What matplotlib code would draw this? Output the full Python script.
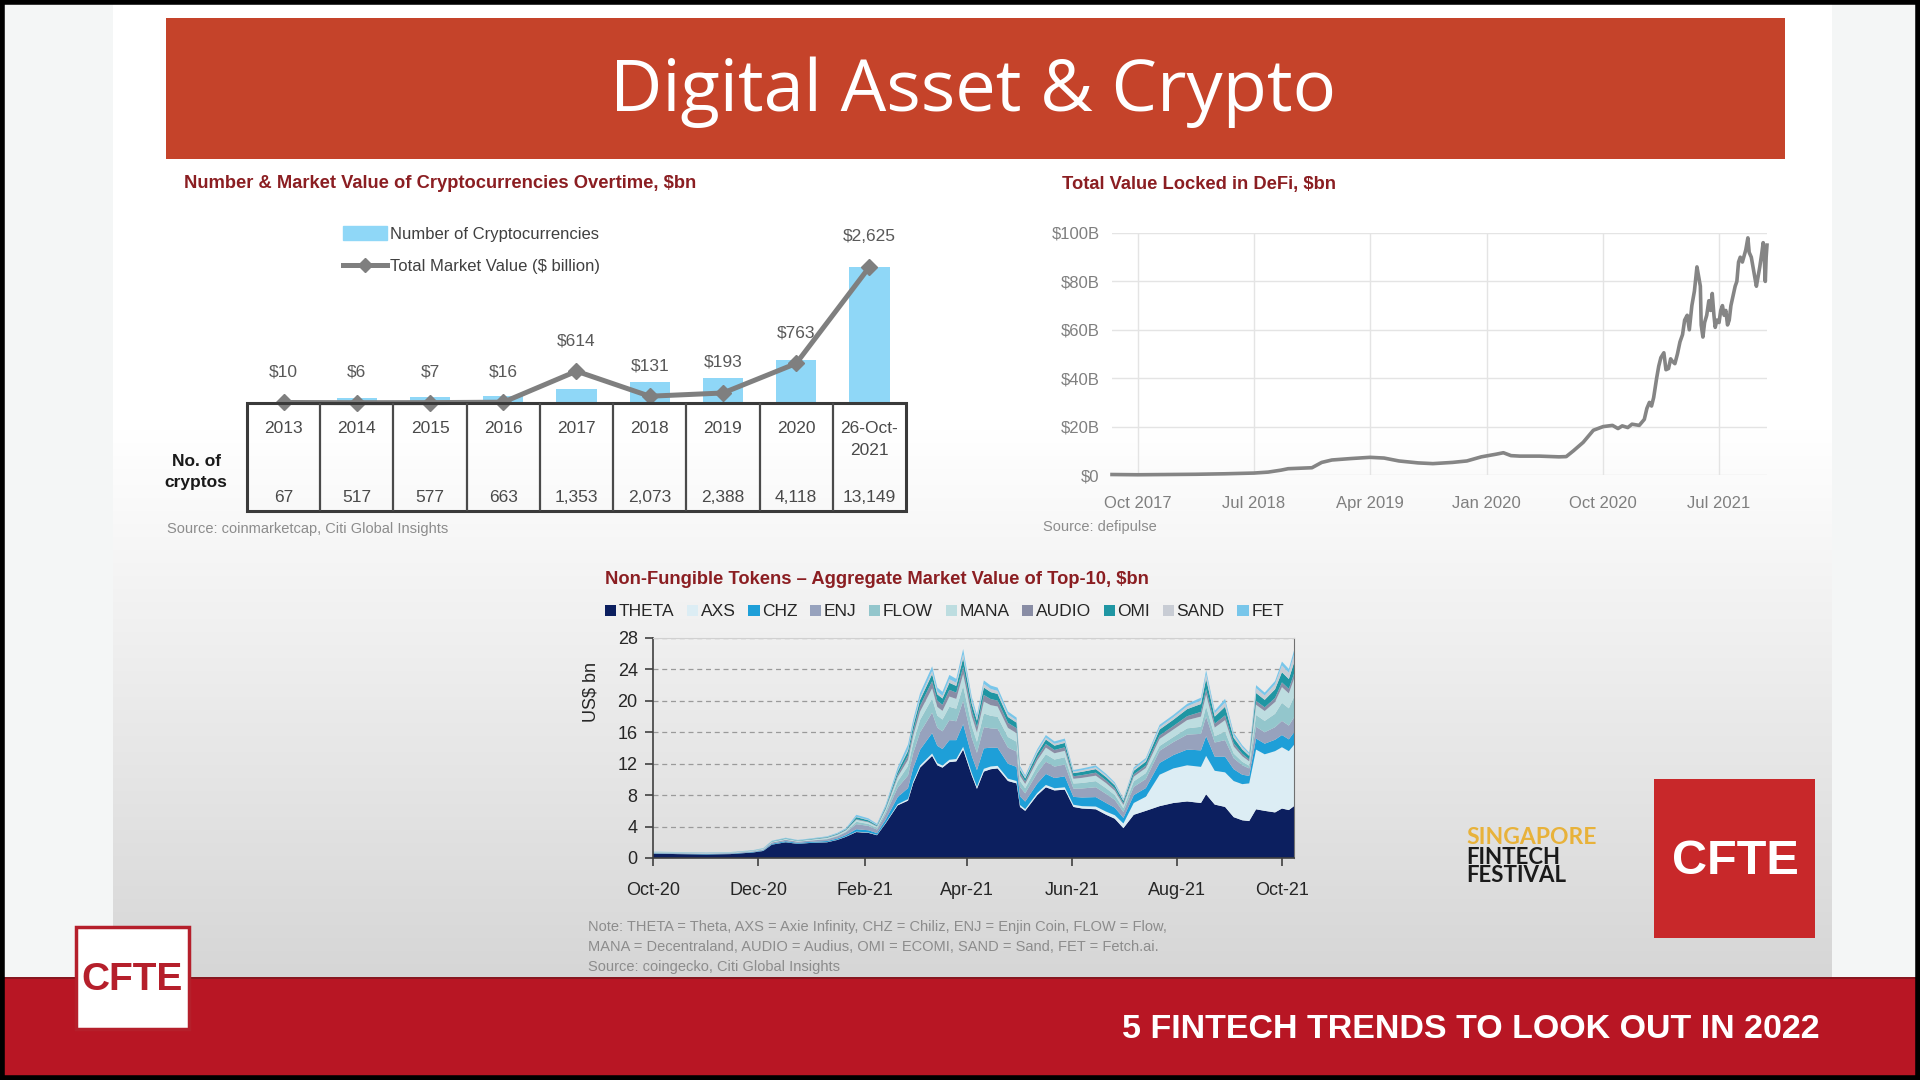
import numpy as np
import matplotlib
matplotlib.use("Agg")
import matplotlib.pyplot as plt
from matplotlib.patches import Rectangle, Patch
from matplotlib.lines import Line2D

# =============================================================================
# Digital Asset & Crypto - slide recreation
# =============================================================================

plt.rcParams["font.family"] = ["Liberation Sans", "DejaVu Sans"]

W, H = 1920, 1080

# --- data: number & market value of cryptocurrencies ---
years = ["2013", "2014", "2015", "2016", "2017", "2018", "2019", "2020", "26-Oct-\n2021"]
n_cryptos = [67, 517, 577, 663, 1353, 2073, 2388, 4118, 13149]
market_value = [10, 6, 7, 16, 614, 131, 193, 763, 2625]

# --- data: total value locked in DeFi ($bn) ---
tvl_dates = [
    "2017-08-01", "2017-10-01", "2018-02-15", "2018-04-23", "2018-07-01", "2018-08-04",
    "2018-09-03", "2018-09-20", "2018-11-15", "2018-12-08", "2019-01-01", "2019-02-15",
    "2019-04-01", "2019-05-04", "2019-06-08", "2019-07-23", "2019-08-27", "2019-10-12",
    "2019-11-15", "2019-12-19", "2020-01-23", "2020-02-09", "2020-02-27", "2020-03-19",
    "2020-05-04", "2020-06-19", "2020-07-06", "2020-07-23", "2020-08-15", "2020-09-08",
    "2020-10-01", "2020-10-23", "2020-11-05", "2020-11-15", "2020-11-28", "2020-12-08",
    "2020-12-25", "2021-01-06", "2021-01-12", "2021-01-18", "2021-01-23", "2021-01-28",
    "2021-02-04", "2021-02-09", "2021-02-14", "2021-02-21", "2021-02-26", "2021-03-04",
    "2021-03-09", "2021-03-13", "2021-03-19", "2021-03-25", "2021-03-31", "2021-04-06",
    "2021-04-11", "2021-04-17", "2021-04-22", "2021-04-28", "2021-05-04", "2021-05-10",
    "2021-05-14", "2021-05-18", "2021-05-20", "2021-05-24", "2021-05-28", "2021-06-02",
    "2021-06-07", "2021-06-11", "2021-06-15", "2021-06-19", "2021-06-22", "2021-06-26",
    "2021-07-01", "2021-07-05", "2021-07-09", "2021-07-13", "2021-07-17", "2021-07-21",
    "2021-07-25", "2021-07-29", "2021-08-03", "2021-08-08", "2021-08-12", "2021-08-16",
    "2021-08-20", "2021-08-25", "2021-09-02", "2021-09-07", "2021-09-10", "2021-09-15",
    "2021-09-19", "2021-09-22", "2021-09-27", "2021-10-01", "2021-10-05", "2021-10-10",
    "2021-10-13", "2021-10-16", "2021-10-18", "2021-10-20", "2021-10-22",
]
tvl_values = [
    0.2, 0.1, 0.3, 0.5, 0.8, 1.2,
    2.0, 2.6, 3.0, 5.2, 6.2, 6.8,
    7.3, 7.0, 5.8, 5.0, 4.7, 5.2,
    5.8, 7.5, 8.6, 9.2, 8.0, 7.8,
    7.8, 7.5, 7.6, 10.0, 13.5, 18.5,
    20.0, 20.5, 19.2, 20.3, 19.6, 21.0,
    20.5, 23.0, 27.5, 30.0, 28.5, 32.0,
    40.0, 45.0, 48.5, 50.5, 43.5, 44.0,
    48.0, 47.0, 46.0, 50.0, 55.0, 58.0,
    64.0, 66.0, 60.0, 70.0, 76.0, 86.0,
    82.0, 78.0, 62.0, 57.0, 63.0, 66.0,
    72.0, 68.0, 75.0, 66.0, 61.0, 64.0,
    63.0, 68.0, 70.0, 66.0, 68.0, 62.0,
    64.0, 70.0, 74.0, 78.0, 80.0, 88.0,
    90.0, 88.0, 93.0, 98.0, 92.0, 90.0,
    86.0, 83.0, 78.0, 82.0, 86.0, 92.0,
    96.0, 88.0, 80.0, 90.0, 95.0,
]
tvl_ticks = ["2017-10-01", "2018-07-01", "2019-04-01", "2020-01-01", "2020-10-01", "2021-07-01"]
tvl_tick_labels = ["Oct 2017", "Jul 2018", "Apr 2019", "Jan 2020", "Oct 2020", "Jul 2021"]

# --- data: NFT top-10 aggregate market value ($bn) ---
nft_dates = [
    "2020-10-01", "2020-10-15", "2020-11-01", "2020-11-15", "2020-11-28", "2020-12-04",
    "2020-12-09", "2020-12-17", "2020-12-24", "2020-12-30", "2021-01-10", "2021-01-16",
    "2021-01-21", "2021-01-27", "2021-02-03", "2021-02-08", "2021-02-13", "2021-02-20",
    "2021-02-26", "2021-03-01", "2021-03-05", "2021-03-12", "2021-03-15", "2021-03-18",
    "2021-03-22", "2021-03-26", "2021-03-30", "2021-04-04", "2021-04-07", "2021-04-11",
    "2021-04-15", "2021-04-19", "2021-04-25", "2021-04-30", "2021-05-02", "2021-05-05",
    "2021-05-12", "2021-05-17", "2021-05-22", "2021-05-28", "2021-06-02", "2021-06-07",
    "2021-06-15", "2021-06-21", "2021-06-26", "2021-07-01", "2021-07-07", "2021-07-14",
    "2021-07-22", "2021-07-30", "2021-08-07", "2021-08-15", "2021-08-18", "2021-08-23",
    "2021-08-29", "2021-09-03", "2021-09-08", "2021-09-12", "2021-09-16", "2021-09-21",
    "2021-09-27", "2021-10-01", "2021-10-05", "2021-10-08",
]
theta = [0.55, 0.50, 0.45, 0.50, 0.70, 0.90, 1.70, 2.00, 1.80, 1.90, 2.00, 2.30, 2.70, 3.30, 3.20, 2.90,
         4.40, 6.70, 7.30, 9.50, 11.50, 13.00, 11.80, 11.50, 12.20, 12.30, 13.80, 10.50, 8.80, 11.00, 11.30, 11.40,
         9.80, 9.50, 6.50, 6.00, 8.00, 9.00, 8.60, 8.70, 6.50, 6.30, 6.20, 5.50, 5.00, 3.80, 5.50, 6.00,
         6.60, 7.00, 7.20, 7.00, 8.10, 6.80, 6.50, 5.20, 4.80, 4.70, 6.20, 6.00, 5.80, 6.30, 6.10, 6.60]
axs = [0.01, 0.01, 0.01, 0.01, 0.01, 0.02, 0.02, 0.02, 0.02, 0.02, 0.03, 0.03, 0.04, 0.06, 0.05, 0.05,
       0.08, 0.15, 0.20, 0.25, 0.28, 0.30, 0.28, 0.27, 0.30, 0.30, 0.35, 0.30, 0.28, 0.35, 0.35, 0.33,
       0.30, 0.30, 0.25, 0.23, 0.28, 0.30, 0.28, 0.30, 0.28, 0.30, 0.35, 0.40, 0.45, 0.60, 1.50, 1.80,
       4.00, 4.40, 4.60, 4.60, 4.90, 4.30, 4.40, 4.60, 4.60, 4.80, 7.60, 7.20, 7.80, 7.80, 7.50, 7.80]
chz = [0.05, 0.05, 0.05, 0.05, 0.06, 0.07, 0.10, 0.12, 0.10, 0.11, 0.13, 0.15, 0.18, 0.30, 0.28, 0.22,
       0.40, 0.90, 1.40, 1.70, 2.00, 2.60, 2.20, 2.10, 2.50, 2.40, 2.90, 2.20, 2.10, 2.60, 2.40, 2.30,
       1.90, 1.80, 1.10, 0.95, 1.20, 1.40, 1.30, 1.40, 1.00, 1.10, 1.20, 1.10, 0.95, 0.70, 1.00, 1.10,
       1.50, 1.70, 2.00, 2.10, 2.50, 1.80, 2.00, 1.50, 1.20, 0.95, 1.40, 1.35, 1.45, 1.55, 1.50, 1.60]
enj = [0.06, 0.06, 0.06, 0.07, 0.08, 0.10, 0.16, 0.18, 0.16, 0.17, 0.22, 0.28, 0.36, 0.65, 0.55, 0.45,
       0.70, 1.20, 1.60, 1.90, 2.20, 2.60, 2.30, 2.25, 2.55, 2.40, 2.95, 2.30, 2.20, 2.70, 2.45, 2.40,
       2.05, 1.95, 1.20, 1.05, 1.35, 1.55, 1.45, 1.50, 1.05, 1.15, 1.25, 1.15, 1.00, 0.75, 1.05, 1.15,
       1.55, 1.65, 1.90, 2.10, 2.50, 1.80, 2.10, 1.40, 1.20, 0.95, 1.50, 1.45, 1.60, 1.80, 1.75, 1.90]
flow = [0.00, 0.00, 0.00, 0.00, 0.00, 0.00, 0.00, 0.00, 0.00, 0.00, 0.05, 0.06, 0.08, 0.30, 0.25, 0.20,
        0.35, 0.80, 1.20, 1.30, 1.60, 1.80, 1.55, 1.50, 1.70, 1.60, 1.90, 1.50, 1.40, 1.75, 1.60, 1.55,
        1.35, 1.25, 0.75, 0.65, 0.85, 0.95, 0.90, 0.92, 0.65, 0.70, 0.78, 0.72, 0.62, 0.48, 0.70, 0.75,
        0.60, 0.65, 0.80, 0.90, 1.30, 0.80, 1.10, 0.60, 0.45, 0.35, 1.50, 1.45, 1.70, 2.30, 2.20, 2.60]
mana = [0.07, 0.07, 0.06, 0.06, 0.07, 0.09, 0.10, 0.12, 0.10, 0.11, 0.13, 0.14, 0.16, 0.26, 0.22, 0.18,
        0.25, 0.55, 0.80, 0.90, 1.05, 1.30, 1.10, 1.10, 1.30, 1.25, 1.50, 1.25, 1.20, 1.50, 1.35, 1.30,
        1.15, 1.10, 0.65, 0.55, 0.75, 0.85, 0.80, 0.82, 0.60, 0.65, 0.70, 0.65, 0.55, 0.42, 0.60, 0.65,
        0.90, 0.95, 1.05, 1.30, 1.50, 1.10, 1.45, 0.90, 0.70, 0.55, 1.30, 1.25, 1.50, 2.00, 1.90, 2.30]
audio = [0.00, 0.00, 0.00, 0.00, 0.00, 0.00, 0.00, 0.00, 0.00, 0.00, 0.03, 0.04, 0.05, 0.08, 0.07, 0.06,
         0.10, 0.30, 0.55, 0.60, 0.75, 0.90, 0.80, 0.78, 0.85, 0.80, 0.95, 0.75, 0.70, 0.85, 0.78, 0.75,
         0.65, 0.62, 0.38, 0.32, 0.40, 0.45, 0.42, 0.45, 0.32, 0.35, 0.38, 0.35, 0.30, 0.22, 0.30, 0.32,
         0.45, 0.45, 0.50, 0.60, 0.70, 0.50, 0.60, 0.40, 0.32, 0.25, 0.50, 0.48, 0.52, 0.60, 0.58, 0.65]
omi = [0.02, 0.02, 0.02, 0.02, 0.03, 0.03, 0.05, 0.06, 0.05, 0.06, 0.07, 0.08, 0.09, 0.25, 0.18, 0.10,
       0.20, 0.40, 0.60, 0.65, 0.75, 0.90, 0.80, 0.80, 0.90, 0.85, 1.10, 0.85, 0.80, 0.95, 0.88, 0.85,
       0.75, 0.70, 0.42, 0.38, 0.50, 0.58, 0.55, 0.56, 0.40, 0.42, 0.45, 0.42, 0.38, 0.30, 0.45, 0.50,
       0.75, 0.80, 0.90, 1.00, 1.30, 0.90, 1.10, 0.70, 0.55, 0.45, 1.00, 0.95, 1.10, 1.30, 1.25, 1.40]
sand = [0.02, 0.02, 0.02, 0.02, 0.02, 0.02, 0.02, 0.02, 0.02, 0.02, 0.03, 0.03, 0.03, 0.05, 0.05, 0.04,
        0.06, 0.12, 0.20, 0.25, 0.30, 0.40, 0.35, 0.35, 0.45, 0.40, 0.50, 0.40, 0.35, 0.45, 0.40, 0.38,
        0.32, 0.30, 0.20, 0.18, 0.22, 0.25, 0.24, 0.25, 0.18, 0.20, 0.22, 0.20, 0.18, 0.14, 0.20, 0.22,
        0.30, 0.32, 0.35, 0.45, 0.60, 0.40, 0.55, 0.35, 0.28, 0.22, 0.60, 0.55, 0.65, 0.85, 0.80, 1.00]
fet = [0.03, 0.03, 0.03, 0.03, 0.03, 0.04, 0.05, 0.06, 0.05, 0.06, 0.07, 0.09, 0.11, 0.25, 0.20, 0.15,
       0.22, 0.40, 0.60, 0.55, 0.55, 0.60, 0.52, 0.50, 0.55, 0.50, 0.65, 0.45, 0.40, 0.45, 0.44, 0.42,
       0.38, 0.35, 0.25, 0.22, 0.30, 0.32, 0.30, 0.30, 0.22, 0.23, 0.25, 0.22, 0.20, 0.15, 0.22, 0.24,
       0.30, 0.30, 0.32, 0.35, 0.50, 0.35, 0.45, 0.30, 0.25, 0.20, 0.40, 0.38, 0.40, 0.50, 0.48, 0.55]
nft_names = ["THETA", "AXS", "CHZ", "ENJ", "FLOW", "MANA", "AUDIO", "OMI", "SAND", "FET"]
nft_colors = ["#0c1f5f", "#dcedf4", "#1e9fd8", "#97a2bd", "#93c6cc",
              "#bddde0", "#898da5", "#1f96a3", "#c8ccd4", "#78c6ea"]
nft_ticks = ["2020-10-01", "2020-12-01", "2021-02-01", "2021-04-01", "2021-06-01", "2021-08-01", "2021-10-01"]
nft_tick_labels = ["Oct-20", "Dec-20", "Feb-21", "Apr-21", "Jun-21", "Aug-21", "Oct-21"]

TITLE_RED = "#8b1e22"
GRAY_TXT = "#595959"
SRC_GRAY = "#8c8c8c"

fig = plt.figure(figsize=(W / 100, H / 100), dpi=100)


def px_axes(x0, y0, x1, y1):
    """axes placed with pixel corners (origin at top-left)."""
    return fig.add_axes([x0 / W, 1 - y1 / H, (x1 - x0) / W, (y1 - y0) / H])


# --- background slide -------------------------------------------------------
bg = fig.add_axes([0, 0, 1, 1])
bg.add_patch(Rectangle((0, 0), W, H, facecolor="#f4f6f6", edgecolor="none", zorder=0))
rows = np.linspace(0, 977, 300)
shade = np.clip((rows - 430) / (977 - 430), 0, 1)
grad = np.repeat((1 - 0.16 * shade)[:, None, None], 3, axis=2)
bg.imshow(grad, extent=(113, 1832, 977, 0), aspect="auto", zorder=1)
bg.set_xlim(0, W)
bg.set_ylim(H, 0)
bg.axis("off")

# title banner
bg.add_patch(Rectangle((166, 18), 1619, 141, facecolor="#c5432a", edgecolor="none", zorder=2))
bg.text(973, 92, "Digital Asset & Crypto", ha="center", va="center", color="white",
        fontsize=52, family=["Open Sans", "DejaVu Sans"], zorder=3)

# footer band
bg.add_patch(Rectangle((0, 977), W, 103, facecolor="#b81624", edgecolor="none", zorder=2))
bg.plot([0, W], [977.5, 977.5], color="#7e1820", lw=1.2, zorder=3)
bg.text(1820, 1030, "5 FINTECH TRENDS TO LOOK OUT IN 2022", ha="right", va="center",
        color="white", fontsize=24.5, fontweight="bold", zorder=3)

# small CFTE logo
bg.add_patch(Rectangle((76, 927), 113, 102, facecolor="white", edgecolor="#b51f2b", lw=2.5, zorder=4))
bg.text(132, 980, "CFTE", ha="center", va="center", color="#b51f2b",
        fontsize=28, fontweight="bold", zorder=5)

# big CFTE logo
bg.add_patch(Rectangle((1654, 779), 161, 159, facecolor="#c8282a", edgecolor="none", zorder=2))
bg.text(1735, 861, "CFTE", ha="center", va="center", color="white",
        fontsize=35, fontweight="bold", zorder=3)

# Singapore Fintech Festival
sff_font = ["Lato", "DejaVu Sans"]
bg.text(1466, 838, "SINGAPORE", ha="left", va="center", color="#e8b23a",
        fontsize=16.5, fontweight="bold", family=sff_font, zorder=3)
bg.text(1466, 857, "FINTECH", ha="left", va="center", color="#1a1a1a",
        fontsize=16, fontweight="bold", family=sff_font, zorder=3)
bg.text(1466, 876, "FESTIVAL", ha="left", va="center", color="#1a1a1a",
        fontsize=16, fontweight="bold", family=sff_font, zorder=3)

# chart titles / sources / notes
bg.text(184, 184, "Number & Market Value of Cryptocurrencies Overtime, $bn", ha="left",
        va="center", color=TITLE_RED, fontsize=13.2, fontweight="bold", zorder=3)
bg.text(1062, 184, "Total Value Locked in DeFi, $bn", ha="left", va="center",
        color=TITLE_RED, fontsize=13.2, fontweight="bold", zorder=3)
bg.text(605, 580, "Non-Fungible Tokens \u2013 Aggregate Market Value of Top-10, $bn", ha="left",
        va="center", color=TITLE_RED, fontsize=13.2, fontweight="bold", zorder=3)
bg.text(167, 529, "Source: coinmarketcap, Citi Global Insights", ha="left", va="center",
        color=SRC_GRAY, fontsize=10.5, zorder=3)
bg.text(1043, 527, "Source: defipulse", ha="left", va="center", color=SRC_GRAY, fontsize=10.5, zorder=3)
bg.text(588, 947,
        "Note: THETA = Theta, AXS = Axie Infinity, CHZ = Chiliz, ENJ = Enjin Coin, FLOW = Flow,\n"
        "MANA = Decentraland, AUDIO = Audius, OMI = ECOMI, SAND = Sand, FET = Fetch.ai.\n"
        "Source: coingecko, Citi Global Insights",
        ha="left", va="center", color=SRC_GRAY, fontsize=10.5, linespacing=1.5, zorder=3)
bg.text(196, 472, "No. of\ncryptos", ha="center", va="center", color="#1a1a1a",
        fontsize=12.5, fontweight="bold", linespacing=1.5, zorder=3)

# outer black frame
bg.add_patch(Rectangle((2, 2), W - 4, H - 4, fill=False, edgecolor="black", lw=4, zorder=10))

# --- chart 1: bars + line above a table -------------------------------------
pos = np.arange(len(years)) + 0.5
ax1 = px_axes(247, 230, 906, 403)
ax1.patch.set_alpha(0)
ax1.bar(pos, n_cryptos, width=0.55, color="#8fd7f7", zorder=1)
ax1.set_xlim(0, len(years))
ax1.set_ylim(0, max(n_cryptos) * 1.272)
ax1.axis("off")

ax1b = ax1.twinx()
ax1b.plot(pos, market_value, color="#7f7f7f", lw=3.6, marker="D", markersize=8,
          clip_on=False, zorder=3)
ax1b.set_ylim(0, max(market_value) * 1.272)
ax1b.set_xlim(0, len(years))
ax1b.axis("off")
for x, v in zip(pos, market_value):
    ax1b.annotate(f"${v:,}", (x, v), xytext=(0, 22), textcoords="offset points",
                  ha="center", va="center", color=GRAY_TXT, fontsize=12.5)

ax1.legend([Patch(color="#8fd7f7"),
            Line2D([], [], color="#7f7f7f", lw=3.6, marker="D", markersize=7)],
           ["Number of Cryptocurrencies", "Total Market Value ($ billion)"],
           loc="upper left", bbox_to_anchor=(343 / W, 1 - 226 / H),
           bbox_transform=fig.transFigure, frameon=False, fontsize=12,
           handlelength=2.65, handleheight=0.9, handletextpad=0.15, labelspacing=1.0,
           borderpad=0, borderaxespad=0, labelcolor="#404040")

tab = px_axes(247, 403, 906, 511)
tab.set_xlim(0, len(years))
tab.set_ylim(511, 403)
tab.axis("off")
tab.add_patch(Rectangle((0, 403), len(years), 108, fill=False, edgecolor="#3a3a3a",
                        lw=2.2, clip_on=False))
for i in range(1, len(years)):
    tab.plot([i, i], [403, 511], color="#4a4a4a", lw=1.6)
for x, y_lab, n in zip(pos, years, n_cryptos):
    tab.text(x, 421, y_lab, ha="center", va="top", fontsize=12.5, color="#4a4a4a",
             linespacing=1.55)
    tab.text(x, 497, f"{n:,}", ha="center", va="center", fontsize=12.5, color="#4a4a4a")

# --- chart 2: DeFi TVL line -------------------------------------------------
ax2 = px_axes(1112, 233, 1767, 475)
ax2.patch.set_alpha(0)
ax2.plot(np.array(tvl_dates, dtype="datetime64[D]"), tvl_values, color="#858585",
         lw=2.6, clip_on=False, zorder=3)
ax2.set_xlim(np.datetime64("2017-08-01"), np.datetime64("2021-10-22"))
ax2.set_ylim(0, 100)
ax2.set_yticks(range(0, 101, 20))
ax2.set_yticklabels(["$0", "$20B", "$40B", "$60B", "$80B", "$100B"])
ax2.set_xticks(np.array(tvl_ticks, dtype="datetime64[D]"))
ax2.set_xticklabels(tvl_tick_labels)
ax2.grid(True, color="#e4e4e4", lw=1)
for s in ax2.spines.values():
    s.set_visible(False)
ax2.tick_params(length=0, labelsize=12, labelcolor="#7f7f7f")
ax2.tick_params(axis="y", pad=9)
ax2.tick_params(axis="x", pad=15)

# --- chart 3: NFT stacked area ----------------------------------------------
ax3 = px_axes(653, 638, 1294, 858)
ax3.patch.set_alpha(0)
nft_x = np.array(nft_dates, dtype="datetime64[D]")
layers = ax3.stackplot(nft_x, theta, axs, chz, enj, flow, mana, audio, omi, sand, fet,
                       colors=nft_colors, labels=nft_names, lw=0, zorder=2)
ax3.set_xlim(np.datetime64("2020-10-01"), np.datetime64("2021-10-08"))
ax3.set_ylim(0, 28)
ax3.set_yticks(range(0, 29, 4))
ax3.set_xticks(np.array(nft_ticks, dtype="datetime64[D]"))
ax3.set_xticklabels(nft_tick_labels)
ax3.yaxis.grid(True, color="#9a9a9a", lw=0.9, ls=(0, (4, 3)), zorder=1)
ax3.set_axisbelow(True)
ax3.spines["top"].set_color("#d0d0d0")
ax3.spines["right"].set_color("#707070")
for side in ("left", "bottom"):
    ax3.spines[side].set_color("#404040")
    ax3.spines[side].set_linewidth(1.2)
ax3.tick_params(labelsize=13, labelcolor="#262626", color="#404040", length=6, width=1.2)
ax3.tick_params(axis="y", pad=5)
ax3.tick_params(axis="x", pad=11)
ax3.set_ylabel("US$ bn", fontsize=13, color="#262626")
ax3.yaxis.set_label_coords(-0.083, 0.755)

fig.legend(layers, nft_names, loc="center left", bbox_to_anchor=(605 / W, 1 - 612 / H),
           ncol=10, frameon=False, fontsize=12.5, handlelength=0.65, handleheight=0.65,
           handletextpad=0.15, columnspacing=0.72, borderpad=0, borderaxespad=0,
           labelcolor="#262626")

fig.savefig("out.png", dpi=100)
